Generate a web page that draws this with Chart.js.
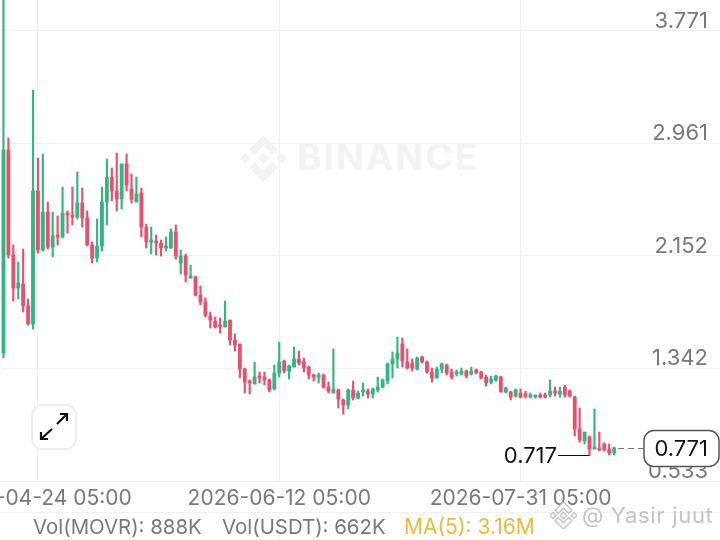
<!DOCTYPE html>
<html>
<head>
<meta charset="utf-8">
<title>MOVR/USDT</title>
<script src="https://cdn.jsdelivr.net/npm/chart.js@4"></script>
<style>
    body { margin: 0; background: #fff; overflow: hidden; font-family: Inter, sans-serif; }
    #wrap { position: relative; width: 720px; height: 540px; overflow: hidden; }
    canvas { position: absolute; left: 0; top: 0; }
    .abs { position: absolute; white-space: nowrap; }
    .vol { top: 515px; font-size: 20.4px; line-height: 24px; color: #77797d; }
</style>
</head>
<body>
<div id="wrap">
    <!-- marca d'agua atras do canvas -->
    <svg class="abs" style="left:240px;top:135px" width="47" height="47" viewBox="0 0 126.61 126.61" fill="#f3f3f3">
        <polygon points="38.73 53.2 63.3 28.63 87.89 53.22 102.19 38.92 63.3 0 24.42 38.9"/>
        <polygon points="0 63.31 14.3 49.01 28.6 63.31 14.3 77.61"/>
        <polygon points="38.73 73.41 63.3 97.98 87.89 73.39 102.19 87.69 63.3 126.61 24.42 87.71"/>
        <polygon points="98.01 63.31 112.31 49.01 126.61 63.31 112.31 77.61"/>
        <polygon points="77.83 63.3 63.3 48.77 48.79 63.3 63.3 77.83"/>
    </svg>
    <div class="abs" style="left:297px;top:135px;font-size:37px;line-height:44px;font-weight:700;color:#f3f3f3;letter-spacing:1.9px">BINANCE</div>
    <canvas id="grafico" width="720" height="540"></canvas>
    <!-- botao de expandir -->
    <svg class="abs" style="left:31px;top:404px" width="46" height="46" viewBox="0 0 46 46" fill="none">
        <rect x="1" y="1" width="44" height="44" rx="10" fill="#fff" stroke="#eeeeee" stroke-width="2"/>
        <path d="M26 20 L36 10 M29 10 H36 V17 M21 25 L10 35 M10 28 V35 H17" stroke="#111" stroke-width="2.2"/>
    </svg>
    <div class="abs vol" style="left:33px">Vol(MOVR): 888K</div>
    <div class="abs vol" style="left:222px">Vol(USDT): 662K</div>
    <div class="abs vol" style="left:404px;color:#e9bb3d;font-size:21px">MA(5): 3.16M</div>
    <!-- marca do autor -->
    <svg class="abs" style="left:550px;top:502px" width="27" height="27" viewBox="0 0 126.61 126.61" fill="#fff" stroke="#c8c8c8" stroke-width="7">
        <polygon points="38.73 53.2 63.3 28.63 87.89 53.22 102.19 38.92 63.3 0 24.42 38.9"/>
        <polygon points="0 63.31 14.3 49.01 28.6 63.31 14.3 77.61"/>
        <polygon points="38.73 73.41 63.3 97.98 87.89 73.39 102.19 87.69 63.3 126.61 24.42 87.71"/>
        <polygon points="98.01 63.31 112.31 49.01 126.61 63.31 112.31 77.61"/>
        <polygon points="77.83 63.3 63.3 48.77 48.79 63.3 63.3 77.83"/>
    </svg>
    <div class="abs" style="left:582px;top:501px;font-size:22px;line-height:28px;color:#c4c4c4;letter-spacing:0.7px;text-shadow:0 0 2px #fff">@ Yasir juut</div>
</div>
<script>
const opens = [
    1.454, 2.915, 2.159, 1.922, 1.950, 1.792, 1.662, 2.620, 2.195, 2.468,
    2.217, 2.296, 2.289, 2.461, 2.447, 2.432, 2.533, 2.425, 2.231, 2.137,
    2.224, 2.540, 2.720, 2.620, 2.562, 2.814, 2.634, 2.540, 2.605, 2.360,
    2.253, 2.253, 2.245, 2.209, 2.209, 2.325, 2.101, 2.152, 1.993, 2.001,
    1.871, 1.821, 1.720, 1.684, 1.648, 1.641, 1.691, 1.547, 1.519, 1.339,
    1.245, 1.231, 1.281, 1.281, 1.260, 1.195, 1.310, 1.396, 1.324, 1.353,
    1.411, 1.389, 1.353, 1.288, 1.281, 1.295, 1.209, 1.166, 1.188, 1.116,
    1.080, 1.188, 1.130, 1.173, 1.180, 1.159, 1.188, 1.209, 1.252, 1.375,
    1.411, 1.519, 1.389, 1.382, 1.339, 1.425, 1.389, 1.317, 1.274, 1.339,
    1.367, 1.317, 1.303, 1.303, 1.324, 1.303, 1.332, 1.317, 1.281, 1.245,
    1.260, 1.281, 1.173, 1.173, 1.144, 1.166, 1.159, 1.137, 1.137, 1.152,
    1.152, 1.152, 1.180, 1.159, 1.209, 1.180, 1.137, 0.907, 0.821, 0.849,
    0.763, 0.770, 0.799, 0.763, 0.734
];
const closes = [
    2.915, 2.159, 1.922, 1.958, 1.792, 1.662, 2.620, 2.195, 2.468, 2.217,
    2.296, 2.289, 2.461, 2.447, 2.432, 2.533, 2.425, 2.231, 2.137, 2.224,
    2.540, 2.720, 2.620, 2.562, 2.814, 2.663, 2.562, 2.598, 2.360, 2.253,
    2.260, 2.245, 2.209, 2.217, 2.325, 2.152, 2.152, 2.015, 2.008, 1.871,
    1.821, 1.727, 1.691, 1.641, 1.641, 1.684, 1.547, 1.511, 1.339, 1.245,
    1.238, 1.281, 1.274, 1.260, 1.188, 1.310, 1.389, 1.324, 1.360, 1.411,
    1.382, 1.346, 1.295, 1.281, 1.295, 1.209, 1.180, 1.195, 1.123, 1.080,
    1.188, 1.130, 1.166, 1.188, 1.159, 1.195, 1.209, 1.260, 1.375, 1.411,
    1.454, 1.396, 1.346, 1.346, 1.418, 1.389, 1.317, 1.274, 1.339, 1.375,
    1.310, 1.281, 1.317, 1.324, 1.288, 1.324, 1.310, 1.274, 1.238, 1.267,
    1.288, 1.173, 1.202, 1.137, 1.188, 1.137, 1.144, 1.152, 1.144, 1.137,
    1.137, 1.180, 1.166, 1.180, 1.152, 1.144, 0.907, 0.828, 0.885, 0.763,
    0.770, 0.756, 0.756, 0.734, 0.771
];
const highs = [
    4.138, 3.001, 2.231, 2.109, 2.202, 1.842, 3.346, 2.857, 2.886, 2.540,
    2.468, 2.440, 2.648, 2.476, 2.648, 2.756, 2.641, 2.476, 2.253, 2.418,
    2.648, 2.850, 2.785, 2.893, 2.814, 2.886, 2.742, 2.720, 2.641, 2.382,
    2.360, 2.303, 2.267, 2.289, 2.346, 2.375, 2.195, 2.166, 2.087, 2.008,
    1.936, 1.850, 1.749, 1.713, 1.706, 1.828, 1.691, 1.591, 1.519, 1.346,
    1.260, 1.389, 1.317, 1.317, 1.267, 1.367, 1.533, 1.403, 1.367, 1.497,
    1.468, 1.418, 1.360, 1.303, 1.310, 1.303, 1.245, 1.483, 1.195, 1.123,
    1.195, 1.252, 1.180, 1.238, 1.195, 1.202, 1.281, 1.267, 1.382, 1.461,
    1.569, 1.562, 1.483, 1.411, 1.425, 1.432, 1.396, 1.346, 1.353, 1.382,
    1.375, 1.339, 1.332, 1.346, 1.332, 1.353, 1.339, 1.324, 1.295, 1.288,
    1.295, 1.288, 1.209, 1.180, 1.195, 1.195, 1.180, 1.166, 1.152, 1.166,
    1.166, 1.260, 1.209, 1.209, 1.224, 1.188, 1.144, 1.058, 0.885, 0.857,
    1.051, 0.885, 0.806, 0.799, 0.777
];
const lows = [
    1.418, 2.137, 1.828, 1.842, 1.749, 1.655, 1.626, 2.173, 2.188, 2.202,
    2.145, 2.231, 2.281, 2.317, 2.375, 2.418, 2.360, 2.224, 2.101, 2.109,
    2.188, 2.375, 2.548, 2.476, 2.490, 2.620, 2.533, 2.540, 2.289, 2.209,
    2.166, 2.159, 2.152, 2.188, 2.209, 2.130, 2.022, 1.965, 1.993, 1.864,
    1.799, 1.713, 1.634, 1.634, 1.598, 1.641, 1.511, 1.468, 1.274, 1.166,
    1.159, 1.231, 1.238, 1.224, 1.173, 1.188, 1.281, 1.310, 1.267, 1.353,
    1.367, 1.317, 1.267, 1.252, 1.238, 1.202, 1.166, 1.166, 1.058, 1.015,
    1.051, 1.116, 1.123, 1.144, 1.130, 1.130, 1.173, 1.202, 1.231, 1.274,
    1.346, 1.353, 1.339, 1.324, 1.332, 1.382, 1.310, 1.245, 1.274, 1.310,
    1.295, 1.267, 1.288, 1.295, 1.274, 1.295, 1.303, 1.267, 1.216, 1.231,
    1.252, 1.173, 1.166, 1.116, 1.137, 1.130, 1.130, 1.130, 1.130, 1.130,
    1.130, 1.137, 1.144, 1.137, 1.137, 1.137, 0.857, 0.813, 0.799, 0.717,
    0.763, 0.749, 0.749, 0.720, 0.720
];
const yTicks = [3.771, 2.961, 2.152, 1.342, 0.533];
const xTickDates = ['2026-04-24 05:00', '2026-06-12 05:00', '2026-07-31 05:00'];
const lastPrice = 0.771;
const lowPrice = 0.717;
const lowIndex = 119;

const verde = '#33b683';
const vermelho = '#e9506c';
const grade = '#f1f1f1';
const cinza = '#77797d';

// dias diarios a partir de 17/04, com folga vazia a direita
const dias = [];
for (let i = 0; i < 146; i++) {
    const d = new Date(Date.UTC(2026, 3, 17 + i));
    dias.push(d.toISOString().slice(0, 10) + ' 05:00');
}
const cores = opens.map((o, i) => closes[i] >= o ? verde : vermelho);

// linhas da base, preco atual e minimo
const extras = {
    id: 'extras',
    afterDraw(chart) {
        const ctx = chart.ctx;
        const x = chart.scales.x;
        const y = chart.scales.y;
        ctx.save();

        ctx.strokeStyle = grade;
        ctx.lineWidth = 1;
        ctx.beginPath();
        ctx.moveTo(0, 481.5); ctx.lineTo(720, 481.5);
        ctx.moveTo(0, 512.5); ctx.lineTo(720, 512.5);
        xTickDates.forEach((t) => {
            const px = Math.round(x.getPixelForValue(dias.indexOf(t))) + 0.5;
            ctx.moveTo(px, 512); ctx.lineTo(px, 540);
        });
        ctx.stroke();

        ctx.font = '22px Inter';
        ctx.textBaseline = 'middle';

        // minimo
        const yMin = Math.round(y.getPixelForValue(lowPrice)) + 0.5;
        ctx.strokeStyle = '#111';
        ctx.beginPath();
        ctx.moveTo(558, yMin);
        ctx.lineTo(x.getPixelForValue(lowIndex), yMin);
        ctx.stroke();
        ctx.fillStyle = '#111';
        ctx.textAlign = 'right';
        ctx.fillText(String(lowPrice), 557, yMin + 1);

        // ultimo preco
        const yLast = Math.round(y.getPixelForValue(lastPrice)) + 0.5;
        ctx.strokeStyle = '#777';
        ctx.setLineDash([6, 4]);
        ctx.beginPath();
        ctx.moveTo(x.getPixelForValue(opens.length - 1) + 4, yLast);
        ctx.lineTo(644, yLast);
        ctx.stroke();
        ctx.setLineDash([]);

        ctx.fillStyle = '#fff';
        ctx.strokeStyle = '#555';
        ctx.lineWidth = 1.5;
        ctx.beginPath();
        ctx.roundRect(644, yLast - 18, 75, 36, 10);
        ctx.fill();
        ctx.stroke();
        ctx.fillStyle = '#111';
        ctx.fillText(lastPrice.toFixed(3), 708, yLast + 1);

        ctx.restore();
    }
};

new Chart(document.getElementById('grafico').getContext('2d'), {
    type: 'bar',
    data: {
        labels: dias,
        datasets: [
            {
                label: 'Wick',
                data: lows.map((l, i) => [l, highs[i]]),
                backgroundColor: cores,
                barThickness: 1.5,
                grouped: false
            },
            {
                label: 'Body',
                data: opens.map((o, i) => [o, closes[i]]),
                backgroundColor: cores,
                barThickness: 3.2,
                minBarLength: 2,
                grouped: false
            }
        ]
    },
    options: {
        responsive: false,
        animation: false,
        layout: { autoPadding: false, padding: { left: 1 } },
        plugins: { legend: { display: false }, tooltip: { enabled: false } },
        scales: {
            x: {
                afterBuildTicks: (s) => { s.ticks = xTickDates.map((t) => ({ value: dias.indexOf(t) })); },
                // sem isso o rotulo cortado encolhe a area do grafico
                afterFit: (s) => { s.height = 59; s.paddingLeft = 0; s.paddingRight = 0; },
                border: { display: false },
                grid: { color: grade, drawTicks: false, offset: false },
                ticks: {
                    autoSkip: false,
                    maxRotation: 0,
                    padding: 5,
                    color: cinza,
                    font: { family: 'Inter', size: 21 }
                }
            },
            y: {
                position: 'right',
                min: 0.533,
                max: 3.994,
                afterBuildTicks: (s) => { s.ticks = yTicks.map((v) => ({ value: v })); },
                afterFit: (s) => { s.width = 0; s.paddingTop = 0; s.paddingBottom = 0; },
                border: { display: false },
                grid: { color: grade, drawTicks: false },
                ticks: {
                    mirror: true,
                    padding: -12,
                    labelOffset: -10,
                    color: cinza,
                    font: { family: 'Inter', size: 22 },
                    callback: (v) => v.toFixed(3)
                }
            }
        }
    },
    plugins: [extras]
});
</script>
</body>
</html>
